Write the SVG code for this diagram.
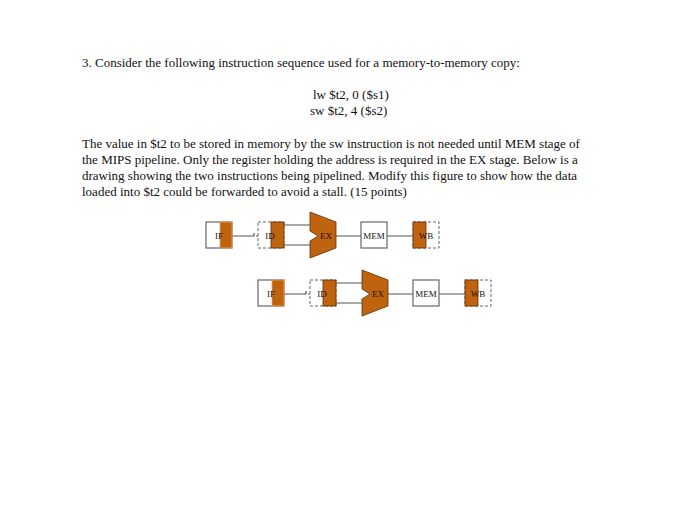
<svg xmlns="http://www.w3.org/2000/svg" width="700" height="531" viewBox="0 0 700 531">
<style>
text{font-family:"Liberation Serif",serif;font-size:13px;fill:#111}
.l{font-size:9px;text-anchor:middle}
.b{fill:#fff;stroke:#666;stroke-width:1.2}
.d{fill:#fff;stroke:#666;stroke-width:1;stroke-dasharray:3,2}
.o{fill:#c0630f;stroke:#5a3008;stroke-width:0.8}
.w{stroke:#555;stroke-width:1.2;fill:none}
</style>
<rect width="700" height="531" fill="#fff"/>
<text x="82" y="67">3. Consider the following instruction sequence used for a memory-to-memory copy:</text>
<text x="313" y="99">lw $t2, 0 ($s1)</text>
<text x="310" y="115">sw $t2, 4 ($s2)</text>
<text x="82" y="148">The value in $t2 to be stored in memory by the sw instruction is not needed until MEM stage of</text>
<text x="82" y="164">the MIPS pipeline. Only the register holding the address is required in the EX stage. Below is a</text>
<text x="82" y="180">drawing showing the two instructions being pipelined. Modify this figure to show how the data</text>
<text x="82" y="196">loaded into $t2 could be forwarded to avoid a stall. (15 points)</text>
<defs>
<g id="pipe">
<g id="conn" class="w"><path d="M232 236H254v-3M256 236h2M284 225H310M284 245H310M336 236H361M387 236H413"/></g>
<g id="if"><rect class="b" x="206" y="222" width="26" height="26"/><rect class="o" x="220" y="222" width="12" height="26" style="stroke:#e8a060"/><text class="l" x="219" y="239">IF</text></g>
<g id="id"><rect class="d" x="258" y="222" width="26" height="26"/><rect class="o" x="271" y="222" width="13" height="26"/><text class="l" x="270" y="239">ID</text></g>
<g id="ex"><path class="o" d="M310 212L336 222V248L310 258V241L318 236L310 231Z"/><text class="l" x="326" y="239">EX</text></g>
<g id="mem"><rect class="b" x="361" y="222" width="26" height="26"/><text class="l" x="374" y="239">MEM</text></g>
<g id="wb"><rect class="d" x="413" y="222" width="26" height="26"/><rect class="o" x="413" y="222" width="13" height="26"/><text class="l" x="426" y="239">WB</text></g>
</g>
</defs>
<use href="#pipe"/>
<use href="#pipe" x="52" y="58"/>
</svg>
